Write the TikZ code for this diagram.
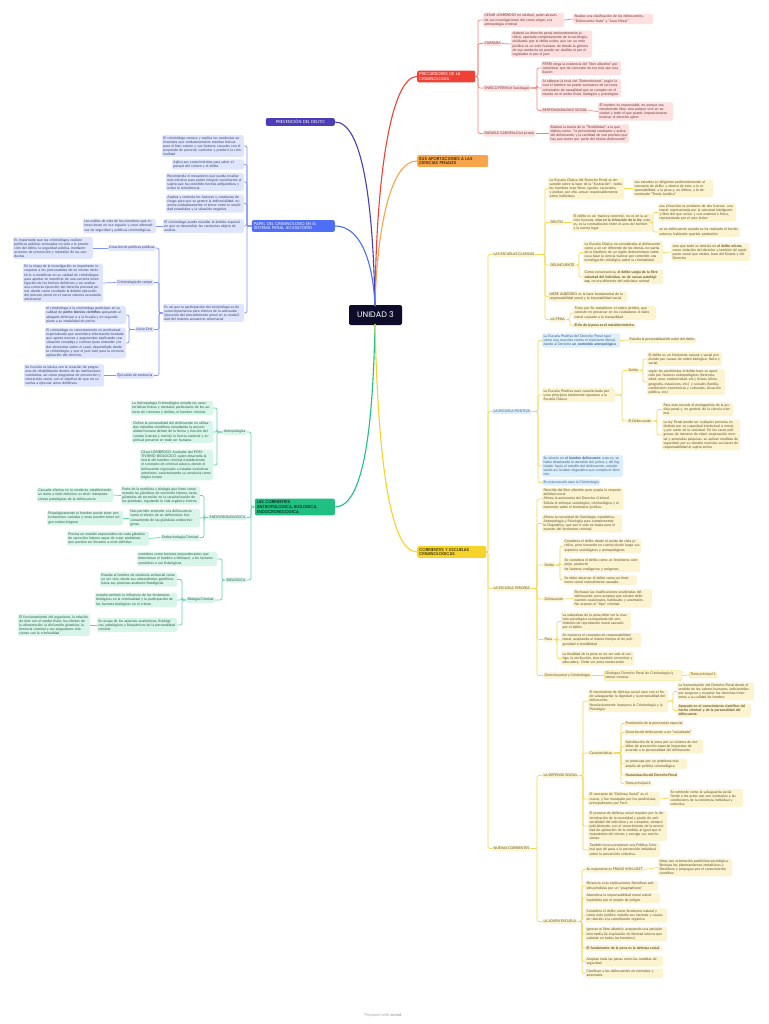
\documentclass[tikz,border=0pt]{standalone}
\usepackage{fontspec}
\setmainfont{Lato}
\newfontfamily\popf{Poppins}
\definecolor{navy}{HTML}{0D0D2B}
\definecolor{redmain}{HTML}{EF4136}
\definecolor{pinkfill}{HTML}{FDE0DF}
\definecolor{pinkline}{HTML}{F5837C}
\definecolor{pinktext}{HTML}{6E3434}
\definecolor{orangemain}{HTML}{F7A54A}
\definecolor{purplemain}{HTML}{4B3DB8}
\definecolor{bluemain}{HTML}{4F6EF7}
\definecolor{bluefill}{HTML}{DFE5FD}
\definecolor{blueline}{HTML}{7D93F8}
\definecolor{bluetext}{HTML}{34426E}
\definecolor{greenmain}{HTML}{1FC082}
\definecolor{greenfill}{HTML}{D8F5E9}
\definecolor{greenline}{HTML}{5FD6A6}
\definecolor{greentext}{HTML}{2A5A48}
\definecolor{yelmain}{HTML}{F6D32B}
\definecolor{yelfill}{HTML}{FCF3D0}
\definecolor{yelline}{HTML}{F5D84E}
\definecolor{yeltext}{HTML}{5E5030}
\definecolor{lbfill}{HTML}{DCEFFB}
\definecolor{lbtext}{HTML}{3B5A8A}
\newcommand\mmr[4]{\draw[#1] (#2.east) -- (#3 |- #2.east) |- (#4.west);}
\newcommand\mml[4]{\draw[#1] (#2.west) -- (#3 |- #2.west) |- (#4.east);}
\tikzset{
  base/.style={font={\fontsize{3.5}{4.1}\selectfont}, inner sep=1.4pt, rounded corners=1.5pt, align=left},
  pk/.style={base, fill=pinkfill, text=pinktext, anchor=west},
  yb/.style={base, fill=yelfill, text=yeltext, anchor=west},
  lb/.style={base, fill=lbfill, text=lbtext, anchor=west},
  bb/.style={base, fill=bluefill, text=bluetext, anchor=east},
  gb/.style={base, fill=greenfill, text=greentext, anchor=east},
  topic/.style={font={\popf\fontsize{4.2}{4.9}\selectfont}, inner sep=2pt, rounded corners=2pt, align=left},
  rl/.style={draw=pinkline, line width=0.7pt, rounded corners=2pt},
  yl/.style={draw=yelline, line width=0.7pt, rounded corners=2pt},
  bl/.style={draw=blueline, line width=0.7pt, rounded corners=2pt},
  gl/.style={draw=greenline, line width=0.7pt, rounded corners=2pt},
  mainl/.style={line width=1.1pt}
}
\begin{document}
\begin{tikzpicture}[x=1pt,y=-1pt]
\fill[white] (0,0) rectangle (768,1024);
\useasboundingbox (0,0) rectangle (768,1024);

% ---------- centre and topics ----------
\node[fill=navy, text=white, rounded corners=2pt, minimum width=53pt, minimum height=20pt, font={\popf\fontsize{8}{9}\selectfont}] (u) at (375.5,315) {UNIDAD 3};

\node[topic, fill=redmain, text=white, text width=54pt, anchor=west] (pre) at (417,76.5) {PRECURSORES DE LA\\CRIMINOLOGÍA};
\node[topic, fill=orangemain, text=black, text width=67pt, anchor=west] (apo) at (417,161) {SUS APORTACIONES A LAS\\CIENCIAS PENALES};
\node[topic, fill=purplemain, text=white, text width=65pt, align=center, anchor=east] (prev) at (335,122) {PREVENCIÓN DEL DELITO};
\node[topic, fill=bluemain, text=white, text width=79pt, anchor=east] (pap) at (335,226) {PAPEL DEL CRIMINOLOGO EN EL\\SISTEMA PENAL ACUSATORIO};
\node[topic, fill=greenmain, text=black, text width=76pt, anchor=east] (cor) at (335,507) {LAS CORRIENTES\\ANTROPOLOGICA, BIOLOGICA,\\ENDOCRONOLOGICA};
\node[topic, fill=yelmain, text=black, text width=65pt, anchor=west] (esc) at (417,552) {CORRIENTES Y ESCUELAS\\CRIMINOLOGICAS};

\draw[mainl, redmain] (375,306) .. controls (376,170) and (392,76.5) .. (pre.west);
\draw[mainl, orangemain] (375,306) .. controls (377,230) and (390,161) .. (apo.west);
\draw[mainl, purplemain] (375,306) .. controls (373,200) and (362,122) .. (prev.east);
\draw[mainl, bluemain] (375,306) .. controls (373,260) and (360,226) .. (pap.east);
\draw[mainl, greenmain] (375,324) .. controls (373,420) and (365,507) .. (cor.east);
\draw[mainl, yelmain] (375,324) .. controls (378,460) and (390,552) .. (esc.west);

% ---------- PRECURSORES ----------
\node[pk, text width=78pt] (p1) at (483,20) {CESAR LOMBROSO (el médico), quien através de sus investigaciones dio como origen a la antropología criminal};
\node[pk, text width=77pt] (p1a) at (573,19) {Realizo una clasificación de los delincuentes, “Delincuente Nato” y “Loco Moral”};
\node[pk] (p2) at (483,43.5) {CARRARA};
\node[pk, text width=78pt] (p2a) at (511,44) {elaboró un derecho penal eminentemente jurídico, apartado completamente de la sociología, olvidando que el delito existe, que ser un ente jurídico es un ente humano, de donde la génesis de esa conducta no puede ser abolida ni por el Legislador ni por el juez};
\node[pk] (p3) at (483,88) {ENRICO FERRI (el Sociólogo)};
\node[pk, text width=77pt] (p3a) at (541,68) {FERRI niega la existencia del “libre albedrío” por considerar que tal concepto no era más que una ilusión};
\node[pk, text width=77pt] (p3b) at (541,88) {Al elaborar la tesis del “Determinismo”, según la cual el hombre no puede sustraerse de las leyes universales de causalidad que se cumplen en el mundo en el orden físico, biológico y psicológico};
\node[pk] (p3c) at (541,110.5) {RESPONSABILIDAD SOCIAL};
\node[pk, text width=72pt] (p3c1) at (598,111.5) {El hombre es responsable, no porque sea moralmente libre, sino porque vive en sociedad y todo el que puede, imposicionarse lesionar el derecho ajeno};
\node[pk] (p4) at (483,133.5) {RAFAELE GAROFALO (el jurista)};
\node[pk, text width=77pt] (p4a) at (549,133.5) {Elaboró la teoría de la “Temibilidad”, a la que definía como: “la perversidad constante y activa del delincuente y la cantidad de mal previsto que hay que temer por parte del mismo delincuente”};

\coordinate (TA) at (478,0);
\coordinate (TB) at (537,0);
\foreach \n in {p1,p2,p3,p4} {\mmr{rl}{pre}{TA}{\n}}
\foreach \n in {p3a,p3b,p3c} {\mmr{rl}{p3}{TB}{\n}}
\draw[rl] (p1.east) -- (p1a.west);
\draw[rl] (p2.east) -- (p2a.west);
\draw[rl] (p3c.east) -- (p3c1.west);
\draw[rl] (p4.east) -- (p4a.west);

% ---------- CORRIENTES Y ESCUELAS ----------
\node[yb] (ec) at (492,254.5) {LAS ESCUELAS CLASICAS};
\node[lb] (ep) at (492,411.5) {LA ESCUELA POSITIVA};
\node[yb] (et) at (492,588.5) {LA ESCUELA TERCERA};
\node[yb] (nc) at (492,848.5) {NUEVAS CORRIENTES};
\coordinate (TY) at (488,0);
\foreach \n in {ec,ep,et,nc} {\mmr{yl}{esc}{TY}{\n}}

% clasicas
\node[yb, text width=73pt] (c1) at (548,188.5) {La Escuela Clásica del Derecho Penal se desarrolló sobre la base de la “Ilustración”: todos los hombres eran libres, iguales, racionales, y podían, por ello, actuar responsablemente como individuos};
\node[yb, text width=77pt] (c1a) at (633,188.5) {Los estudios se dirigieron preferentemente al concepto de delito, y dentro de éste, a la responsabilidad, a la pena y, en último, a lo denominado “Teoría Jurídica”};
\node[yb] (c2) at (549,222.5) {DELITO};
\node[yb, text width=77pt] (c2a) at (572,222.5) {El delito es un ‘manera concreta’, no es en la acción humana, \textbf{sino en la infracción de la ley}, esto es, es la contradicción entre el acto del hombre y la norma legal};
\node[yb, text width=75pt] (c2a1) at (658,212.5) {esa infracción es producto de dos fuerzas: una moral, representada por la voluntad inteligente y libre del que actúa; y una material o física, representada por el acto lesivo};
\node[yb, text width=79pt] (c2a2) at (658,232) {se es delincuente cuando se ha realizado el hecho externo, habiendo querido producirlo.};
\node[yb] (c3) at (549,265) {DELINCUENTE};
\node[yb, text width=77pt] (c3a) at (583,252.5) {La Escuela Clásica no consideraba al delincuente como a un ser diferente de los demás, no partía de la hipótesis de un rígido determinismo sobre cuya base la ciencia tuviese por cometido una investigación etiológica sobre la criminalidad};
\node[yb, text width=76pt] (c3a1) at (671,252) {sino que todo se detenía en \textbf{el delito mismo}, como violación del derecho y también de aquel pacto social que estaba, base del Estado y del Derecho};
\node[yb, text width=77pt] (c3b) at (583,277) {Como consecuencia, \textbf{el delito surgía de la libre voluntad del individuo, no de causas patológicas}, no era diferente del individuo normal};
\node[yb, text width=76pt] (c4) at (548,296.5) {LIBRE ALBEDRIO es la base fundamental de la responsabilidad penal y la imputabilidad social};
\node[yb] (c5) at (549,319.5) {LA PENA};
\node[yb, text width=80pt] (c5a) at (573,313) {Tiene por fin restablecer el orden jurídico, que consiste en preservar en los ciudadanos el daño moral causado a la tranquilidad};
\node[yb] (c5b) at (573,325.5) {\textbf{El fin de la pena es el restablecimiento.}};
\coordinate (TC) at (545,0);
\coordinate (TC2) at (653,0);
\coordinate (TC3) at (579,0);
\coordinate (TC4) at (570,0);
\foreach \n in {c1,c2,c3,c4,c5} {\mmr{yl}{ec}{TC}{\n}}
\draw[yl] (c1.east) -- (c1a.west);
\draw[yl] (c2.east) -- (c2a.west);
\foreach \n in {c2a1,c2a2} {\mmr{yl}{c2a}{TC2}{\n}}
\foreach \n in {c3a,c3b} {\mmr{yl}{c3}{TC3}{\n}}
\draw[yl] (c3a.east) -- (c3a1.west);
\foreach \n in {c5a,c5b} {\mmr{yl}{c5}{TC4}{\n}}

% positiva
\node[lb, text width=75pt] (q1) at (542,340.5) {La Escuela Positiva del Derecho Penal nace como una reacción contra el clasicismo liberal, dando al Derecho \textbf{un contenido antropológico}};
\node[yb] (q1a) at (628,340) {Estudia la personalidad del autor del delito};
\node[yb, text width=70pt] (q2) at (542,395) {La Escuela Positiva nace caracterizada por unos principios totalmente opuestos a la Escuela Clásica};
\node[yb] (q2a) at (627,370.5) {Delito};
\node[yb, text width=72pt] (q2a1) at (647,359) {El delito es un fenómeno natural y social producido por causas de orden biológico, físico y social.};
\node[yb, text width=75pt] (q2a2) at (647,382) {según los positivistas el delito hace su aparición por factores antropológicos (herencia, edad, sexo, endocrinidad, etc.), físicos (clima, geografía, estaciones, etc.) y sociales (familia, condiciones económicas y culturales, situación política, etc.)};
\node[yb] (q2b) at (627,421) {El Delincuente};
\node[yb, text width=68pt] (q2b1) at (662,409.5) {Para esta escuela el protagonista de la justicia penal y, en general, de la ciencia criminal.};
\node[yb, text width=75pt] (q2b2) at (662,435) {La ley Penal puede ser cualquier persona, es distinto por su capacidad intelectual o moral, y por razón de la sociedad. En los casos peligrosos de menores de edad, enajenación mental y anomalías psíquicas, se aplican medidas de seguridad; por su tamaño excesivo sus bases de responsabilidad al sujeto activo};
\node[lb, text width=78pt] (q3) at (542,466) {Su interés en \textbf{el hombre delincuente}, esto es, se había desplazado la atención del jurista y del legislador hacia el estudio del delincuente, completando así la labor dogmática que cumplía el derecho.};
\node[lb] (q4) at (542,482.5) {En esta escuela nace la Criminología};
\coordinate (TD) at (538,0);
\coordinate (TD2) at (622,0);
\coordinate (TD3) at (643,0);
\coordinate (TD4) at (657,0);
\foreach \n in {q1,q2,q3,q4} {\mmr{yl}{ep}{TD}{\n}}
\draw[yl] (q1.east) -- (q1a.west);
\foreach \n in {q2a,q2b} {\mmr{yl}{q2}{TD2}{\n}}
\foreach \n in {q2a1,q2a2} {\mmr{yl}{q2a}{TD3}{\n}}
\foreach \n in {q2b1,q2b2} {\mmr{yl}{q2b}{TD4}{\n}}

% tercera
\node[yb, text width=78pt] (t1) at (542,499) {Parecida del libre albedrío pero acepta la responsabilidad moral.\\Afirma la autonomía del Derecho Criminal.\\Señala el enfoque sociológico, criminológico y el momento sobre el fenómeno jurídico.};
\node[yb, text width=77pt] (t2) at (542,523.5) {Afirma la necesidad de Sociología, estadística, Antropología y Psicología para complementar la Dogmática, que por sí sola no basta para el examen del fenómeno criminal.};
\node[yb] (t3) at (543,565) {Delito};
\node[yb, text width=75pt] (t3a) at (563,546) {Considera el delito desde el punto de vista jurídico, pero tomando en cuenta desde luego sus aspectos sociológicos y antropológicos};
\node[yb, text width=74pt] (t3b) at (563,565) {Se considera el delito como un fenómeno complejo, producto\\de factores endógenos y exógenos.};
\node[yb, text width=71pt] (t3c) at (563,580) {Se debe observar el delito como un fenómeno social naturalmente causado.};
\node[yb] (t4) at (543,599) {Delincuente};
\node[yb, text width=76pt] (t4a) at (573,598.5) {Rechazan las clasificaciones positivistas del delincuente, pero aceptan que existen delincuentes ocasionales, habituales y anormales.\\No aceptan el “tipo” criminal.};
\node[yb] (t5) at (543,639.5) {Pena};
\node[yb, text width=67pt] (t5a) at (561,621.5) {La naturaleza de la pena debe ser la reacción psicológica acompañada del sentimiento de reprobación moral causado por el delito.};
\node[yb, text width=77pt] (t5b) at (561,640) {Se conserva el concepto de responsabilidad moral, aceptando al mismo tiempo el de peligrosidad o temibilidad.};
\node[yb, text width=70pt] (t5c) at (561,658.5) {La finalidad de la pena es no ser solo el castigo, la retribución, sino también correctiva y educadora. Debe ser pena-reeducación};
\node[yb] (t6) at (543,675.5) {Derecho penal y Criminologia.};
\node[yb, text width=75pt, draw=yelline, line width=0.3pt] (t6a) at (604,675.5) {Distingue Derecho Penal de Criminología (y demás ciencias};
\node[yb, draw=yelline, line width=0.3pt] (t6a1) at (689,675) {Tema principal 1};
\coordinate (TE) at (537,0);
\coordinate (TE2) at (560,0);
\coordinate (TE3) at (557,0);
\foreach \n in {t1,t2,t3,t4,t5,t6} {\mmr{yl}{et}{TE}{\n}}
\foreach \n in {t3a,t3b,t3c} {\mmr{yl}{t3}{TE2}{\n}}
\draw[yl] (t4.east) -- (t4a.west);
\foreach \n in {t5a,t5b,t5c} {\mmr{yl}{t5}{TE3}{\n}}
\draw[yl] (t6.east) -- (t6a.west);
\draw[yl] (t6a.east) -- (t6a1.west);

% nuevas corrientes
\node[yb] (d) at (542,775.5) {LA DEFENSA SOCIAL};
\node[yb, text width=77pt] (d1) at (588,701) {El movimiento de defensa social nace con el fin de salvaguardar la dignidad y la personalidad del delincuente.\\Neoclasicamente incorpora la Criminología y la Psicología.};
\node[yb, text width=74pt] (d1a) at (677,691.5) {La humanización del Derecho Penal desde el sentido de los valores humanos, indicándolos por asegurar y respetar los derechos inherentes a su calidad de hombre.};
\node[yb, text width=71pt] (d1b) at (677,710.5) {\textbf{Apoyado en el conocimiento científico del hecho criminal y de la personalidad del delincuente.}};
\node[yb] (d2) at (588,753) {Características};
\node[yb] (d2a) at (624,723.5) {Predominio de la prevención especial};
\node[yb] (d2b) at (624,732.5) {Derecho del delincuente a ser “socializado”};
\node[yb, text width=76pt] (d2c) at (624,746.5) {Substitución de la pena por un sistema de medidas de prevención especial impuestas de acuerdo a la personalidad del delincuente};
\node[yb, text width=60pt] (d2d) at (624,764) {se preocupa por un problema más amplio de política criminológica.};
\node[yb] (d2e) at (624,775) {\textbf{Humanización del Derecho Penal}};
\node[yb] (d2f) at (624,783.5) {Tema principal 4};
\node[yb, text width=69pt] (d3) at (588,799) {El concepto de “Defensa Social” es el nuevo, y fue manejado por los positivistas, principalmente por Ferri.};
\node[yb, text width=71pt] (d3a) at (669,798) {Se entiende como la salvaguarda social frente a los actos que son contrarios a las condiciones de la existencia individual y colectiva.};
\node[yb, text width=76pt] (d4) at (588,826) {El proceso de defensa social requiere por la determinación de la necesidad y grado de antisocialidad del individuo y se completa, siempre judicialmente, con el conocimiento de la necesidad de aplicación de la medida, al igual que el tratamiento del mismo y consigo sus conclusiones};
\node[yb, text width=69pt] (d5) at (588,850) {También busca promover una Política Criminal que dé paso a la prevención individual sobre la prevención colectiva.};
\node[yb] (j) at (542,921.5) {LA JOVEN ESCUELA};
\node[yb] (j1) at (585,869.5) {Su exponente es FRANZ VON LISZT};
\node[yb, text width=71pt] (j1a) at (658,867.5) {Ideas con orientación positivista-sociológica. Rechaza los planteamientos metafísicos y filosóficos y propugna por el conocimiento científico.};
\node[yb, text width=70pt] (j2) at (585,886) {Renuncia a las explicaciones filosóficas substituyéndolas por un “pragmatismo”};
\node[yb, text width=72pt] (j3) at (585,898) {Abandona la responsabilidad moral substituyéndola por el estado de peligro.};
\node[yb, text width=79pt] (j4) at (585,915.5) {Considera el delito como fenómeno natural y como ente jurídico, estudia sus factores y causas en relación a la constitución orgánica.};
\node[yb, text width=79pt] (j5) at (585,934) {Ignoran el libre albedrío, aceptando una posición intermedia (la inspiración de libertad interna que subsiste en todos los hombres)};
\node[yb, text width=74pt] (j6) at (585,948) {\textbf{El fundamento de la pena es la defensa social.}};
\node[yb, text width=75pt] (j7) at (585,961.5) {Aceptan toda las penas como las medidas de seguridad.};
\node[yb, text width=75pt] (j8) at (585,973.5) {Clasifican a los delincuentes en normales y anormales.};
\coordinate (TF) at (537,0);
\coordinate (TF2) at (583,0);
\coordinate (TF3) at (673,0);
\coordinate (TF4) at (621,0);
\coordinate (TF5) at (582,0);
\foreach \n in {d,j} {\mmr{yl}{nc}{TF}{\n}}
\foreach \n in {d1,d2,d3,d4,d5} {\mmr{yl}{d}{TF2}{\n}}
\foreach \n in {d1a,d1b} {\mmr{yl}{d1}{TF3}{\n}}
\foreach \n in {d2a,d2b,d2c,d2d,d2e,d2f} {\mmr{yl}{d2}{TF4}{\n}}
\draw[yl] (d3.east) -- (d3a.west);
\foreach \n in {j1,j2,j3,j4,j5,j6,j7,j8} {\mmr{yl}{j}{TF5}{\n}}
\draw[yl] (j1.east) -- (j1a.west);

% ---------- PAPEL DEL CRIMINOLOGO ----------
\node[bb, text width=79pt] (b1) at (244,146) {El criminólogo conoce y explica las conductas antisociales que verdaderamente resultan lesivas para el bien común y sus factores causales con el propósito de prevenir, controlar y predecir la criminalidad};
\node[bb, text width=69pt] (b2) at (244,164.5) {Aplica sus conocimientos para saber el porqué del crimen y el delito.};
\node[bb, text width=75pt] (b3) at (244,182) {Recomienda el mecanismo que pueda resultar más efectivo para poder integrar socialmente al sujeto que ha cometido hechos antijurídicos y evitar la reincidencia.};
\node[bb, text width=75pt] (b4) at (244,203.5) {Analiza y controla los factores y conductas de riesgo para que se genere la antisocialidad, examina cuidadosamente el tercer entre la movilidad estadística y la situación negativa};
\node[bb, text width=78pt] (b5) at (244,226) {El criminólogo puede estudiar el ámbito espacial en que se desarrollan las conductas objeto de análisis.};
\node[bb, text width=70pt] (b5a) at (156,226) {Los estilos de vida de los miembros que interaccionan en ese espacio y crear alternativas de seguridad y políticas criminológicas.};
\node[bb, text width=78pt] (b6) at (244,313) {Es así que la participación del criminólogo es de suma importancia para efectos de la adecuada ejecución del procedimiento penal en su modalidad del sistema acusatorio adversarial};
\node[bb] (b6a) at (156,248) {Creación de políticas públicas};
\node[bb, text width=77pt] (b6a1) at (93,248) {Es importante que los criminólogos realicen políticas públicas enfocadas no solo a la prevención del delito, la seguridad pública, mediante acciones de prevención y represión de las conductas};
\node[bb] (b6b) at (154,282.5) {Criminología de campo};
\node[bb, text width=77pt] (b6b1) at (103,283) {En la etapa de la investigación es importante incorporar a los procuradores de un mismo ministerio o científicos en su calidad de criminólogos para aportar en beneficio de una correcta investigación de los hechos delictivos y así realizar una correcta ejecución del derecho procesal penal, dando como resultado la debida ejecución del proceso penal en el nuevo sistema acusatorio adversarial};
\node[bb] (b6c) at (154,329.5) {Juicio Oral};
\node[bb, text width=78pt] (b6c1) at (126,315) {el criminólogo o la criminóloga participan en su calidad de \textbf{perito técnico científico} apoyando al abogado defensor o a la fiscalía y en segundo plano a su modalidad de perito.};
\node[bb, text width=78pt] (b6c2) at (126,343) {El criminólogo es concretamente un profesional especializado que suministra información fundada que aporta nuevos y argumentos explicando una situación compleja y confusa (para entender y/o dar elementos sobre el caso), desarrollado desde la criminología, y que el juez esté para la correcta aplicación del derecho.};
\node[bb] (b6d) at (154,375.5) {Ejecución de sentencia};
\node[bb, text width=77pt] (b6d1) at (104,375.5) {Su función es básica con la creación de programas de rehabilitación dentro de las instituciones carcelarias, así como programas de prevención y reinserción social, con el objetivo de que no se vuelva a ejecutar actos delictivos.};
\coordinate (TG) at (247,0);
\coordinate (TG2) at (159,0);
\coordinate (TG3) at (129,0);
\foreach \n in {b1,b2,b3,b4,b5,b6} {\mml{bl}{pap}{TG}{\n}}
\draw[bl] (b5.west) -- (b5a.east);
\foreach \n in {b6a,b6b,b6c,b6d} {\mml{bl}{b6}{TG2}{\n}}
\draw[bl] (b6a.west) -- (b6a1.east);
\draw[bl] (b6b.west) -- (b6b1.east);
\foreach \n in {b6c1,b6c2} {\mml{bl}{b6c}{TG3}{\n}}
\draw[bl] (b6d.west) -- (b6d1.east);

% ---------- CORRIENTES ANTROPOLOGICA ----------
\node[gb] (g1) at (247,432) {Antropologica};
\node[gb, text width=79pt] (g1a) at (213,408) {La Antropología Criminológica estudia las características físicas y mentales particulares de los autores de crímenes y delitos, el hombre criminal};
\node[gb, text width=78pt] (g1b) at (213,432) {Define la personalidad del delincuente en utilizados métodos científicos estudiando la personalidad humana dentro de la forma y función del cuerpo (cuerpo y mente), la fuerza material y espiritual presente en todo ser humano.};
\node[gb, text width=70pt] (g1c) at (213,465) {César LOMBROSO: fundador del POSITIVISMO BIOLOGICO, quien desarrolla la teoría del hombre criminal estableciendo el concepto de criminal atávico, donde el delincuente regresado a estados evolutivos anteriores, caracterizando su conducta como ilógica innato};
\node[gb] (g2) at (247,517.5) {ENDOCRONOLOGICA};
\node[gb, text width=76pt] (g2a) at (200,495.5) {Parte de la medicina y biología que tiene como estudio las glándulas de secreción interna, estas glándulas de secreción en la caracterización de las glándulas, regulando la vida orgánica interna};
\node[gb, text width=73pt] (g2a1) at (113,495) {Causado efectos en la conducta, estableciendo un daño a nivel delictivo; es decir interpretaciones patológicas de la delincuencia};
\node[gb, text width=68pt] (g2b) at (200,518) {Nos permite entender a la delincuencia como el efecto de un deficiencias funcionamiento de las glándulas endocrinógenas};
\node[gb, text width=73pt] (g2b1) at (123,518) {Psicológicamente el hombre puede tener perturbaciones variadas y estas pueden tener origen endocrinógeno};
\node[gb] (g2c) at (200,537.5) {Endocrinología Criminal};
\node[gb, text width=79pt] (g2c1) at (149,538.5) {Precisa un estudio esquemático de cada glándula de secreción interna capaz de crear problemas que puedan ser llevados a nivel delictivo};
\node[gb] (g3) at (247,580) {BIOLOGICA};
\node[gb, text width=77pt] (g3a) at (217,559) {considera como factores preponderantes que determinan al hombre a delinquir, a los factores somáticos o sea fisiológicos};
\node[gb] (g3b) at (215,600) {Biología Criminal};
\node[gb, text width=74pt] (g3b1) at (177,579.5) {Estudia al hombre de conducta antisocial como un ser vivo, desde sus antecedentes genéticos hasta sus procesos anatomo-fisiológicos};
\node[gb, text width=79pt] (g3b2) at (177,600) {estudia también la influencia de los fenómenos biológicos en la criminalidad y la participación de los factores biológicos en el crimen};
\node[gb, text width=77pt] (g3b3) at (177,625) {Se ocupa de los aspectos anatómicos, fisiológicos, patológicos y bioquímicos de la personalidad criminal};
\node[gb, text width=69pt] (g3b4) at (90,625) {El funcionamiento del organismo, la relación de éste con el medio físico, los efectos de la alimentación, la disfunción glandular, la herencia criminal y sus alegaciones relaciones con la criminalidad};
\coordinate (TH) at (251,0);
\coordinate (TH2) at (217,0);
\coordinate (TH3) at (204,0);
\coordinate (TH4) at (222,0);
\coordinate (TH5) at (182,0);
\foreach \n in {g1,g2,g3} {\mml{gl}{cor}{TH}{\n}}
\foreach \n in {g1a,g1b,g1c} {\mml{gl}{g1}{TH2}{\n}}
\foreach \n in {g2a,g2b,g2c} {\mml{gl}{g2}{TH3}{\n}}
\draw[gl] (g2a.west) -- (g2a1.east);
\draw[gl] (g2b.west) -- (g2b1.east);
\draw[gl] (g2c.west) -- (g2c1.east);
\foreach \n in {g3a,g3b} {\mml{gl}{g3}{TH4}{\n}}
\foreach \n in {g3b1,g3b2,g3b3} {\mml{gl}{g3b}{TH5}{\n}}
\draw[gl] (g3b3.west) -- (g3b4.east);

% ---------- footer ----------
\node[font={\fontsize{4}{5}\selectfont}, text=gray!70] (foot) at (383,1015) {Prepared with \textbf{xmind}};
\end{tikzpicture}
\end{document}
